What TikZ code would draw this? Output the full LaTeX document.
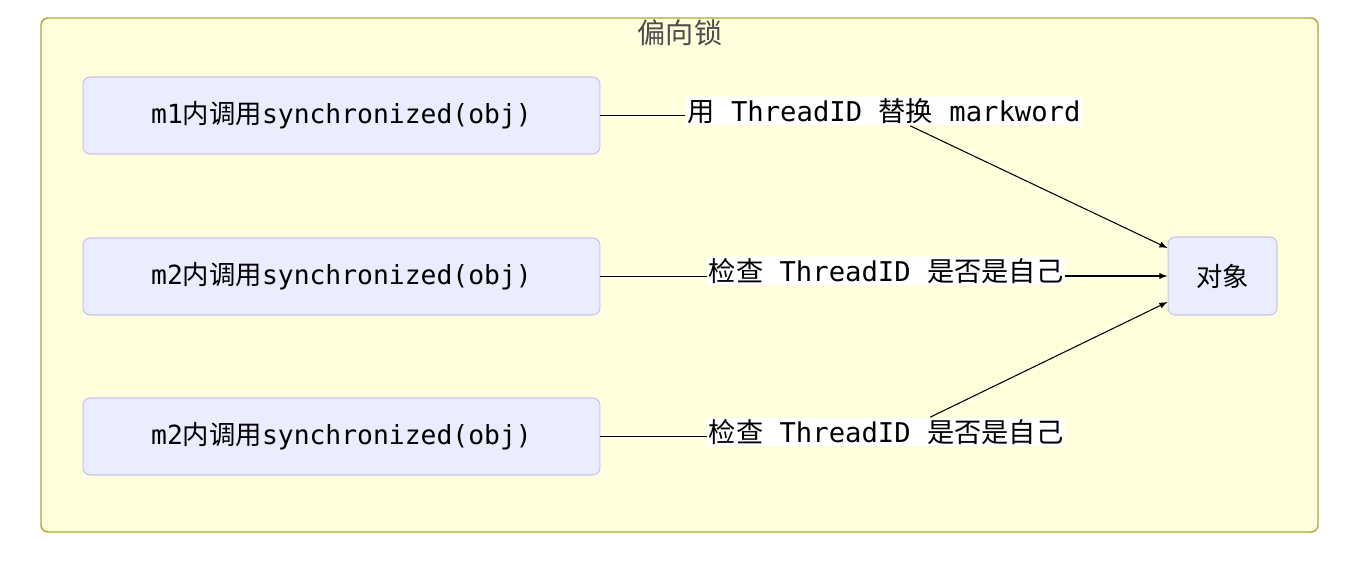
\documentclass[tikz,border=0pt]{standalone}
\usepackage{fontspec}
\setmonofont{DejaVu Sans Mono}
\newfontfamily\cjk{Noto Sans CJK SC}
\usetikzlibrary{calc}
\definecolor{bgy}{HTML}{FFFFDE}
\definecolor{bgb}{HTML}{AAAA33}
\definecolor{nf}{HTML}{ECECFF}
\definecolor{nb}{HTML}{C9C3F0}
\newcommand{\gp}{\hspace{0.6em}}
\begin{document}
\begin{tikzpicture}[x=0.02cm,y=-0.02cm,
  box/.style={draw=nb,fill=nf,rounded corners=4pt,line width=0.6pt,font=\fontsize{15}{17}\selectfont},
  lab/.style={fill=white,inner sep=1pt,font=\fontsize{15.5}{17}\selectfont},
  ed/.style={line width=0.6pt,draw=black},
  arr/.style={ed,-latex}]
\useasboundingbox (0,0) rectangle (1362,566);
\draw[draw=bgb,fill=bgy,rounded corners=4pt,line width=0.8pt] (41,18) rectangle (1318,532);
\node[font=\cjk\fontsize{16}{18}\selectfont,text=black!70] (t) at (680,33) {偏向锁};
\node[box,minimum width=10.34cm,minimum height=1.54cm] (m1) at (341.5,115.5) {\texttt{m1}{\cjk 内调用}\texttt{synchronized(obj)}};
\node[box,minimum width=10.34cm,minimum height=1.54cm] (m2) at (341.5,276.5) {\texttt{m2}{\cjk 内调用}\texttt{synchronized(obj)}};
\node[box,minimum width=10.34cm,minimum height=1.54cm] (m3) at (341.5,436.5) {\texttt{m2}{\cjk 内调用}\texttt{synchronized(obj)}};
\node[box,minimum width=2.18cm,minimum height=1.56cm] (obj) at (1222.5,276) {\cjk 对象};
\node[lab] (l1) at (884,111) {{\cjk 用}\gp\texttt{ThreadID}\gp{\cjk 替换}\gp\texttt{markword}};
\node[lab] (l2) at (886,271) {{\cjk 检查}\gp\texttt{ThreadID}\gp{\cjk 是否是自己}};
\node[lab] (l3) at (886,432) {{\cjk 检查}\gp\texttt{ThreadID}\gp{\cjk 是否是自己}};
\draw[ed] (m1.east) -- (m1.east -| l1.west);
\draw[ed] (m2.east) -- (m2.east -| l2.west);
\draw[ed] (m3.east) -- (m3.east -| l3.west);
\draw[arr] ($(l1.south)+(26,0)$) -- ($(obj.west)+(0,-28)$);
\draw[arr] (obj.west -| l2.east) -- (obj.west);
\draw[arr] ($(l3.north)+(44,0)$) -- ($(obj.west)+(0,26)$);
\end{tikzpicture}
\end{document}
